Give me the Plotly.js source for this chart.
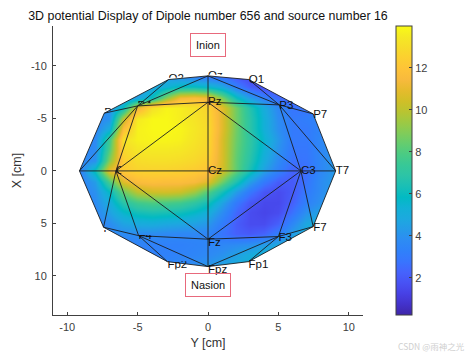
<!DOCTYPE html>
<html><head><meta charset="utf-8">
<script src="https://cdn.plot.ly/plotly-3.0.1.min.js"></script>
<style>html,body{margin:0;padding:0;background:#fff}#c{width:474px;height:355px}</style>
</head><body><div id="c"></div>
<script>
// Electrodes: horizontal coordinate (Y, cm) and vertical coordinate (X, cm)
const names = ['O2','Oz','O1','P7','P3','Pz','P4','P8','T8','C4','Cz','C3','T7','F7','F3','Fz','F4','F8','Fp2','Fpz','Fp1'];
const elecY = [-2.8,0,2.9,7.47,5.06,0,-5,-7.37,-9.13,-6.54,0,6.6,9.07,7.47,5,0,-4.93,-7.42,-2.88,0,2.88];
const elecX = [-8.7,-9.05,-8.7,-5.43,-6.29,-6.54,-6.19,-5.5,0,0,0,0,0,5.3,6.25,6.5,6.16,5.36,8.64,9.11,8.64];
const hull = ['O2','Oz','O1','P7','T7','F7','Fp1','Fpz','Fp2','F8','T8','P8'];
const triangles = [
 ['O2','Oz','P4'],['Oz','P4','Pz'],['Oz','Pz','P3'],['Oz','O1','P3'],['O1','P3','P7'],['P3','P7','T7'],['P3','T7','C3'],
 ['P3','C3','Pz'],['Pz','C3','Cz'],['Pz','Cz','C4'],['Pz','C4','P4'],['P4','C4','T8'],['P4','T8','P8'],['P4','P8','O2'],
 ['T8','C4','F8'],['C4','F8','F4'],['C4','F4','Fz'],['C4','Fz','Cz'],['Cz','Fz','C3'],['Fz','C3','F3'],['C3','F3','F7'],
 ['C3','F7','T7'],['F8','F4','Fp2'],['F4','Fp2','Fpz'],['F4','Fpz','Fz'],['Fz','Fpz','F3'],['Fpz','F3','Fp1'],['F3','Fp1','F7']];

// Potential
const gridY = [-10,-9,-8,-7,-6,-5,-4,-3,-2,-1,0,1,2,3,4,5,6,7,8,9,10];
const gridX = [-10,-9,-8,-7,-6,-5,-4,-3,-2,-1,0,1,2,3,4,5,6,7,8,9,10];
const potential = [
[4,4,4,4,4,4,4,3.5,3,3,3,2.7,2,1.4,1.3,1.5,2,2.5,3,3,3],
[4,4,4,4,4,4.3,4.3,4.3,3.8,3.4,3,2.7,2,1.4,1.3,1.5,2,3,3,3,3],
[4,4,4,4,4,4.2,4.6,5.3,6,6,5.6,4.8,3.2,2.1,1.6,1.6,2,3,3,3,3],
[4,4,4,4,4,4.5,6,9,11.3,11.6,11.2,8.8,6,4.3,3.2,2.5,2.2,3,3,3,3],
[4,4,4,4,6,11,13.2,13.8,13.6,13.2,12.6,10.8,8.6,6.6,5,3.6,2.8,2.8,3,3,3],
[3.5,3.5,3.5,4,10,13.5,13.9,13.9,13.6,13.3,12.8,10.8,8.6,6.8,5.2,3.8,3,3.2,3.5,3.6,3.6],
[3.5,3.5,3.5,5,11.7,13.7,13.9,13.9,13.8,13.4,12.9,10.8,8.6,6.8,5.2,3.9,3,3,3.5,3.8,3.8],
[3.5,3.5,3.7,7.5,13.2,13.7,13.8,13.8,13.7,13.3,12.8,10.6,8.5,7,5.5,4.2,3,3,3.6,4,4],
[3.5,3.5,3.8,8,12.8,13.4,13.5,13.5,13.4,13.1,12.7,10.6,8.4,6.9,5.3,4,2.9,2.9,3.6,4.2,4.2],
[3.5,3.6,4,9,12.4,13,13.1,13.1,13,12.8,12.4,10.6,8.3,6.7,5,3.7,2.7,2.8,3.6,4.3,4.4],
[3.4,3.5,6.2,11,12.3,12.6,12.6,12.6,12.5,12.3,12,10.5,8.3,6.3,4.5,3.3,2.3,2.6,3.6,4.3,4.5],
[3.4,3.4,4.4,7.8,10.8,11.6,11.8,11.7,11.7,11.5,10.8,8.6,6.5,4.4,3,2.1,2,2.8,3.8,4.4,4.5],
[3.4,3.4,4,5.8,8.5,10,10.4,10.5,10.3,9.5,8,6.3,4.4,2.9,1.9,1.6,2,3,3.8,4.5,4.6],
[3.4,3.4,3.8,5,6.8,7.6,7.9,7.8,7.6,7,6.2,4.6,3,1.9,1.5,1.5,2.2,3.3,4,4.6,4.7],
[3.4,3.4,3.6,4.5,5.6,6.2,6.4,6.3,6.1,5.7,5.1,3.8,2.4,1.6,1.4,1.6,2.7,4,4.6,4.8,4.8],
[3.4,3.4,3.4,3.8,4.6,4.9,5,4.8,4.7,4.5,4.2,3.1,2.1,1.6,1.6,2.2,3.6,4.8,5,5,5],
[3.4,3.4,3.4,3.6,3.8,3.8,3.8,3.7,3.6,3.6,3.5,2.8,2.2,2,2.3,3.2,4.4,5,5,5,5],
[3.4,3.4,3.4,3.4,3.4,3.4,3.3,3.3,3.3,3.4,3.5,3.6,3.8,4,4.4,4.8,5,5,5,5,5],
[3.3,3.3,3.3,3.3,3.3,3.3,3.3,3.3,3.4,3.5,3.7,4,4.5,5,5.3,5.3,5.3,5.3,5.3,5.3,5.3],
[3.5,3.5,3.5,3.5,3.5,3.5,3.5,3.6,3.7,3.9,4.2,4.6,5,5.3,5.3,5.3,5.3,5.3,5.3,5.3,5.3],
[3.5,3.5,3.5,3.5,3.5,3.5,3.5,3.6,3.7,3.9,4.2,4.6,5,5.3,5.3,5.3,5.3,5.3,5.3,5.3,5.3]];

const axisTicks = [-10,-5,0,5,10];
const barTicks = [2,4,6,8,10,12];
const zLimits = [0.24,13.98];

// Parula colormap
const parula = [[0.2422,0.1504,0.6603],[0.2647,0.1978,0.7952],[0.2783,0.2559,0.8991],[0.2810,0.3228,0.9579],[0.2699,0.3892,0.9906],[0.2206,0.4603,0.9973],[0.1834,0.5074,0.9798],[0.1764,0.5499,0.9520],[0.1460,0.6091,0.9079],[0.1113,0.6635,0.8763],[0.0689,0.6948,0.8394],[0.0067,0.7312,0.7660],[0.0964,0.7500,0.7120],[0.1717,0.7670,0.6554],[0.2161,0.7843,0.5923],[0.2906,0.7973,0.5188],[0.3909,0.8029,0.4354],[0.5044,0.7993,0.3480],[0.6174,0.7876,0.2612],[0.7242,0.7698,0.1910],[0.8203,0.7498,0.1535],[0.9035,0.7330,0.1774],[0.9728,0.7298,0.2394],[0.9970,0.7659,0.2199],[0.9892,0.8136,0.1885],[0.9676,0.8639,0.1643],[0.9597,0.9135,0.1423],[0.9769,0.9839,0.0805]];
const colorscale = parula.map((c,i)=>[i/(parula.length-1),`rgb(${c.map(v=>Math.round(v*255)).join(',')})`]);

// Part of each label hidden by the surface: [top,right,bottom,left] in percent
const hiddenPart = {O2:[0,0,55,0],Oz:[0,0,50,0],P4:[0,0,62,0],P8:[0,50,65,0],T8:[100,0,0,0],C4:[0,65,0,0],F8:[65,55,0,0],F4:[45,0,15,0],Fp2:[30,0,0,0]};
// Vertical label nudges in pixels
const labelDrop = {O1:1,P7:1,P3:1,F7:2,F3:1.5,Fz:4,Fpz:4,Fp1:3,Fp2:3,F4:1,F8:2};

const idx = Object.fromEntries(names.map((n,i)=>[n,i]));
const edgeY=[],edgeX=[],seen=new Set();
triangles.forEach(t=>{[[t[0],t[1]],[t[1],t[2]],[t[2],t[0]]].forEach(e=>{
 const k=[...e].sort().join('-'); if(seen.has(k))return; seen.add(k);
 edgeY.push(elecY[idx[e[0]]],elecY[idx[e[1]]],null);edgeX.push(elecX[idx[e[0]]],elecX[idx[e[1]]],null);});});

const xR=[-11.01,11.01], yR=[13.72,-13.8];
// White cover outside the electrode hull: outer rectangle with a keyhole to the hull
const hy=hull.map(n=>elecY[idx[n]]), hx=hull.map(n=>elecX[idx[n]]);
const maskY=[hy[0],hy[0],xR[0],xR[0],xR[1],xR[1],hy[0],hy[0]].concat(hy.slice(1)).concat([hy[0]]);
const maskX=[hx[0],yR[1],yR[1],yR[0],yR[0],yR[1],yR[1],hx[0]].concat(hx.slice(1)).concat([hx[0]]);

const font='"Liberation Sans",Arial,sans-serif', grey='#404040';
const traces=[
 {type:'heatmap',x:gridY,y:gridX,z:potential,zsmooth:'best',zmin:zLimits[0],zmax:zLimits[1],colorscale,hoverinfo:'skip',
  colorbar:{thickness:16,thicknessmode:'pixels',len:289,lenmode:'pixels',x:1.1063,xanchor:'left',y:0.5,yanchor:'middle',
   outlinecolor:grey,outlinewidth:1,ticks:'inside',ticklen:3,tickcolor:grey,tickmode:'array',tickvals:barTicks,ticktext:barTicks.map(String),
   tickfont:{family:font,size:11,color:grey},xpad:0,ypad:0,borderwidth:0}},
 {type:'scatter',mode:'none',x:maskY,y:maskX,fill:'toself',fillcolor:'#fff',hoverinfo:'skip',showlegend:false},
 {type:'scatter',mode:'lines',x:edgeY,y:edgeX,line:{color:'#1a1e22',width:0.9},hoverinfo:'skip',showlegend:false},
 {type:'scatter',mode:'text',x:elecY,y:elecX,text:names,textposition:'middle right',textfont:{family:font,size:11.5,color:'#111'},hoverinfo:'skip',showlegend:false}
];
const layout={
 width:474,height:355,margin:{l:52.5,r:111,t:26,b:40},paper_bgcolor:'#fff',plot_bgcolor:'#fff',showlegend:false,
 title:{text:'3D potential Display of Dipole number 656 and source number 16',font:{family:font,size:12.4,color:'#111'},x:208/474,xanchor:'center',xref:'container',y:1-16/355,yanchor:'middle',yref:'container'},
 xaxis:{range:xR,tickmode:'array',tickvals:axisTicks,ticktext:axisTicks.map(String),ticks:'inside',ticklen:3,tickcolor:grey,showgrid:false,zeroline:false,showline:true,linecolor:grey,linewidth:1,
  tickfont:{family:font,size:11,color:grey},ticklabelstandoff:2,title:{text:'Y [cm]',font:{family:font,size:12.5,color:'#333'},standoff:6}},
 yaxis:{range:yR,tickmode:'array',tickvals:axisTicks,ticktext:axisTicks.map(String),ticks:'inside',ticklen:3,tickcolor:grey,showgrid:false,zeroline:false,showline:true,linecolor:grey,linewidth:1,
  tickfont:{family:font,size:11,color:grey},ticklabelstandoff:3,title:{text:'X [cm]',font:{family:font,size:12.5,color:'#333'},standoff:6}},
 annotations:[
  {x:0,y:-12,xref:'x',yref:'y',text:'Inion',showarrow:false,font:{family:font,size:11,color:'#111'},bordercolor:'#e8697c',borderwidth:1,borderpad:5,bgcolor:'rgba(255,255,255,0)'},
  {x:0,y:10.83,xref:'x',yref:'y',text:'Nasion',showarrow:false,font:{family:font,size:11,color:'#111'},bordercolor:'#e8697c',borderwidth:1,borderpad:5,bgcolor:'rgba(255,255,255,0)'},
  {x:(432-52.5)/310.5,y:(315-346)/289,xref:'paper',yref:'paper',text:'CSDN @雨神之光',showarrow:false,font:{family:'"Noto Sans CJK SC",sans-serif',size:8.5,color:'#cfcfcf'},xanchor:'center',yanchor:'middle'}
 ]
};
Plotly.newPlot('c',traces,layout,{displayModeBar:false,staticPlot:true}).then(gd=>{
 gd.querySelectorAll('.textpoint text').forEach(t=>{
  const n=t.textContent, h=hiddenPart[n], d=labelDrop[n];
  if(d) t.setAttribute('y',parseFloat(t.getAttribute('y'))+d);
  if(h) t.style.clipPath=`inset(${h[0]}% ${h[1]}% ${h[2]}% ${h[3]}%)`;
 });
});
</script></body></html>
